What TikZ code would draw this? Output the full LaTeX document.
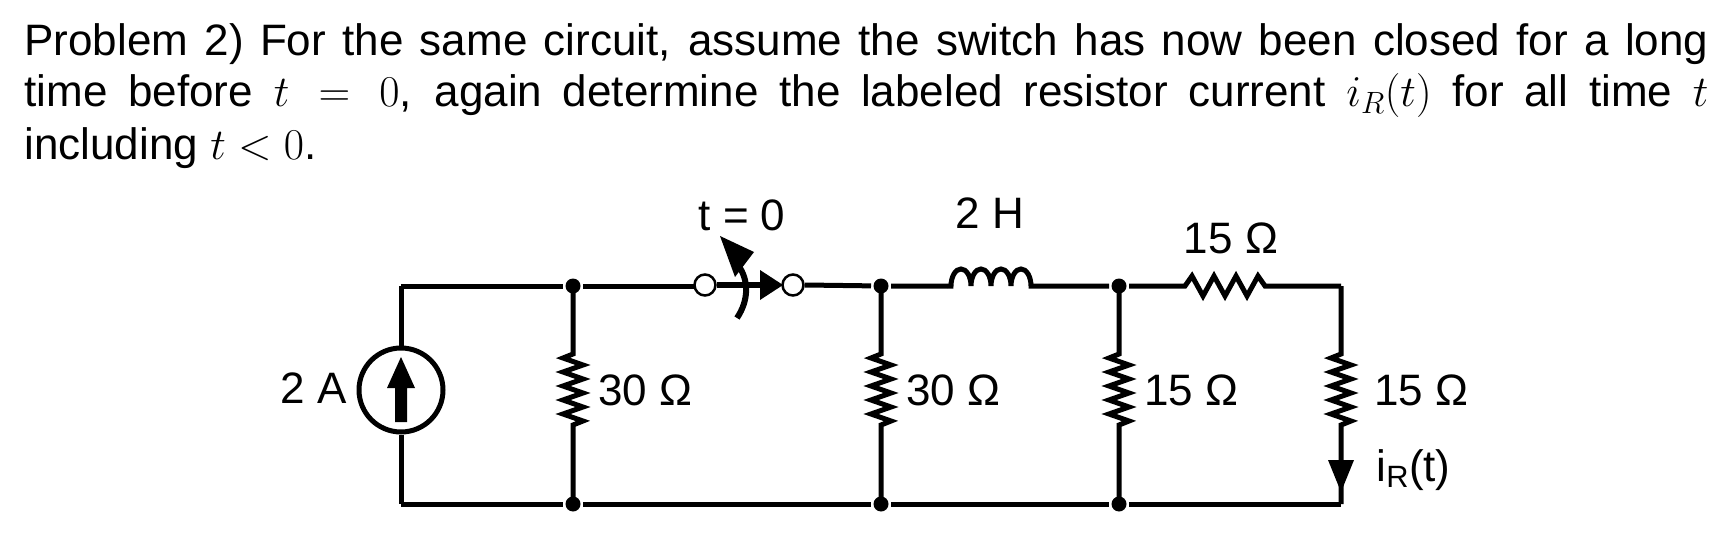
\RequirePackage{fix-cm}
\documentclass[tikz,border=0pt]{standalone}
\usepackage{fontspec}
\setmainfont{Liberation Sans}
\begin{document}
\begin{tikzpicture}[x=1pt,y=-1pt,line width=5pt,
  dot/.style={circle,fill=black,inner sep=0pt,minimum size=15pt},
  sw/.style={circle,draw,fill=white,line width=2.5pt,inner sep=0pt,minimum size=21pt},
  lbl/.style={font=\fontsize{44}{52}\selectfont,inner sep=0pt}]
\useasboundingbox (0,0) rectangle (1712,537);
\node[anchor=west,inner sep=0pt,font=\fontsize{44}{52}\selectfont] at (22,44) {\hbox to 1684pt{Problem 2) For the same circuit, assume the switch has now been closed for a long}};
\node[anchor=west,inner sep=0pt,font=\fontsize{44}{52}\selectfont] at (22,96) {\hbox to 1684pt{time before $t = 0$, again determine the labeled resistor current $i_R(t)$ for all time $t$}};
\node[anchor=west,inner sep=0pt,font=\fontsize{44}{52}\selectfont] at (22,148) {including $t<0$.};
% coordinates
\coordinate (TL) at (401,286); \coordinate (BL) at (401,504);
\node[dot] (t1) at (573,286) {}; \node[dot] (b1) at (573,504) {};
\node[dot] (t2) at (881,286) {}; \node[dot] (b2) at (881,504) {};
\node[dot] (t3) at (1119,286) {}; \node[dot] (b3) at (1119,504) {};
\coordinate (TR) at (1341,286); \coordinate (BR) at (1341,504);
% source
\node[circle,draw,line width=5pt,minimum size=84pt,inner sep=0pt] (src) at (401,390) {};
\draw (TL) -- (src.north); \draw (src.south) -- (BL);
\fill (401,357) -- (387,388) -- (395,388) -- (395,422) -- (407,422) -- (407,388) -- (415,388) -- cycle;
\node[lbl,anchor=east] (srcl) at (349,388) {2 A};
% top wire
\draw (TL) -- (t1) -- (705,286);
\node[sw] (s1) at (705,285) {};
\node[sw] (s2) at (793,285) {};
\draw[line width=6pt] (s1.east) -- (762,285);
\fill (760,270) -- (783,285) -- (760,300) -- cycle;
\draw[line width=6pt] (737,318) .. controls (749,300) and (749,280) .. (738,265);
\fill (720,236) -- (754,252) -- (735,277) -- cycle;
\node[lbl] (tl) at (742,215) {t = 0};
\draw (s2.east) -- (t2) -- (947,286);
% inductor
\draw (947,286) -- (951,286) arc (180:360:10 and 17) arc (180:360:10 and 17) arc (180:360:10 and 17) arc (180:360:10 and 17) -- (t3);
\node[lbl] (ll) at (990,213) {2 H};
% top resistor
\draw (t3) -- (1185,286) -- (1192,276) -- (1203,296) -- (1214,276) -- (1225,296) -- (1236,276) -- (1247,296) -- (1258,276) -- (1265,286) -- (TR);
\node[lbl] (r5l) at (1231,238) {15 Ω};
% vertical resistors
\foreach \x in {573,881,1119,1341}{
  \draw (\x,286) -- (\x,354) -- (\x-10,358) -- (\x+10,365) -- (\x-10,372) -- (\x+10,379) -- (\x-10,386) -- (\x+10,393) -- (\x-10,400) -- (\x+10,407) -- (\x-10,414) -- (\x+10,421) -- (\x,425) -- (\x,504);
}
\node[lbl,anchor=west] at (596,390) {30 Ω};
\node[lbl,anchor=west] at (904,390) {30 Ω};
\node[lbl,anchor=west] at (1142,390) {15 Ω};
\node[lbl,anchor=west] at (1372,390) {15 Ω};
\fill (1328,460) -- (1354,460) -- (1341,492) -- cycle;
\node[lbl,anchor=west] at (1374,470) {i\textsubscript{R}(t)};
% bottom
\draw (BL) -- (b1) -- (b2) -- (b3) -- (BR);
\end{tikzpicture}
\end{document}
